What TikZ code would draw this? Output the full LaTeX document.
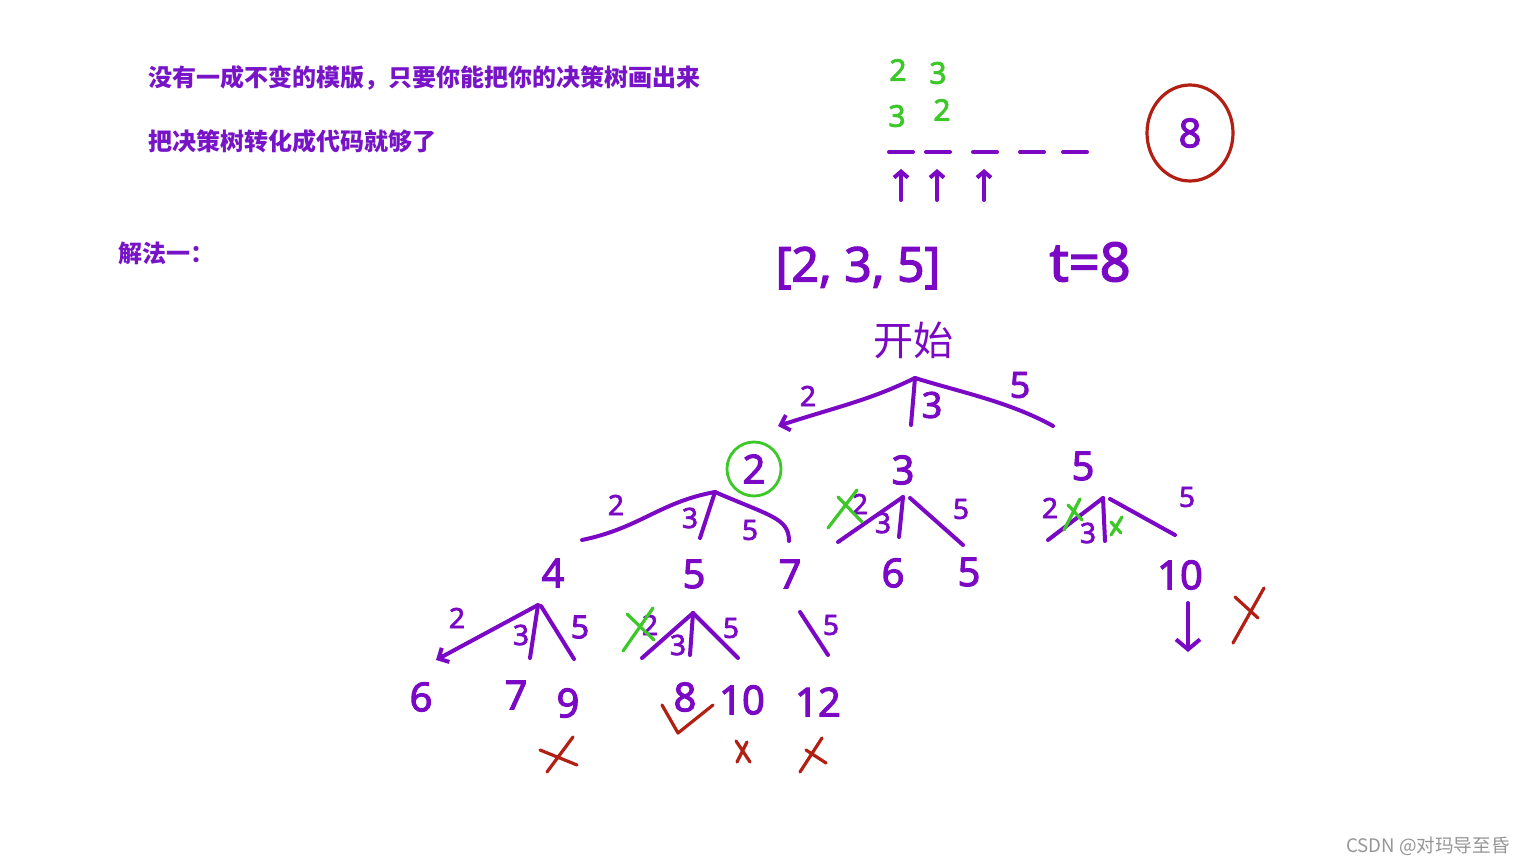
\documentclass[tikz,border=0pt]{standalone}
\usepackage{fontspec}
\newfontfamily\cjk{Noto Sans CJK SC}
\newfontfamily\hand{Noto Sans}[AutoFakeBold=2.5]
\usetikzlibrary{arrows.meta,shapes.geometric}

\definecolor{penpurple}{RGB}{122,8,196}
\definecolor{inkpurple}{RGB}{120,20,200}
\definecolor{pengreen}{RGB}{60,200,40}
\definecolor{penred}{RGB}{178,32,20}
\definecolor{markgray}{RGB}{150,150,150}

\tikzset{
    pen/.style={penpurple, line width=2pt, line cap=round, line join=round},
    tipped/.style={-{Straight Barb[length=4pt,width=8pt]}},
    num/.style={text=penpurple, inner sep=0pt, font=\hand\bfseries\fontsize{20}{20}\selectfont},
    lbl/.style={text=penpurple, inner sep=0pt, font=\hand\bfseries\fontsize{14}{14}\selectfont},
    gnum/.style={text=pengreen, inner sep=0pt, font=\hand\bfseries\fontsize{15}{15}\selectfont},
    title/.style={text=inkpurple, inner sep=0pt, anchor=west, font=\cjk\bfseries\fontsize{12}{12}\selectfont},
    cross/.style={penred, line width=1.6pt, line cap=round, line join=round},
    gcross/.style={pengreen, line width=1.6pt, line cap=round},
    goal/.style={ellipse, draw=penred, line width=1.6pt, minimum width=43pt, minimum height=48pt, inner sep=0pt},
    chosen/.style={circle, draw=pengreen, line width=1.4pt, minimum size=27pt, inner sep=0pt}
}

\begin{document}
\begin{tikzpicture}[x=0.5pt, y=-0.5pt]

    \useasboundingbox (0,0) rectangle (1525,865);
    \fill[white] (0,0) rectangle (1525,865);

    % Notes on the left
    \node[title] (note1) at (148,78) {没有一成不变的模版，只要你能把你的决策树画出来};
    \node[title] (note2) at (148,141) {把决策树转化成代码就够了};
    \node[title] (method) at (118,253) {解法一：};

    % Slots with the green choices
    \node[gnum] (pa1) at (898,70) {2};
    \node[gnum] (pa2) at (938,73) {3};
    \node[gnum] (pb1) at (897,116) {3};
    \node[gnum] (pb2) at (942,110) {2};
    \foreach \i/\x in {1/901, 2/938, 3/985, 4/1032, 5/1075} {
        \coordinate (sl\i) at (\x-12,152);
        \coordinate (sr\i) at (\x+12,152);
        \draw[pen] (sl\i) -- (sr\i);
    }
    \foreach \i/\x in {1/901, 2/937, 3/984} {
        \coordinate (ub\i) at (\x,200);
        \coordinate (ut\i) at (\x,169);
        \draw[pen, -{Straight Barb[length=3pt,width=7pt]}] (ub\i) -- (ut\i);
    }
    \node[goal, num] (target) at (1190,133) {8};

    % Candidates and target
    \node[num, font=\hand\bfseries\fontsize{24}{24}\selectfont] (cands) at (858,268) {[2, 3, 5]};
    \node[num, font=\hand\bfseries\fontsize{27}{27}\selectfont] (sum) at (1090,262) {t=8};

    % Root
    \node[text=penpurple, inner sep=0pt, font=\cjk\fontsize{20}{20}\selectfont] (start) at (913,340) {开始};
    \coordinate (r0) at (915,378);
    \coordinate (r1) at (778,426);
    \coordinate (r2) at (911,425);
    \coordinate (r3) at (1053,426);
    \draw[pen, tipped] (r0) .. controls (870,400) and (840,406) .. (r1);
    \draw[pen] (r0) -- (r2);
    \draw[pen] (r0) .. controls (960,392) and (1010,402) .. (r3);
    \node[lbl] (l0a) at (808,396) {2};
    \node[lbl, font=\hand\bfseries\fontsize{18}{18}\selectfont] (l0b) at (932,405) {3};
    \node[lbl, font=\hand\bfseries\fontsize{18}{18}\selectfont] (l0c) at (1020,385) {5};

    % First level
    \node[chosen, num] (n2) at (754,469) {2};
    \node[num] (n3) at (903,470) {3};
    \node[num] (n5) at (1083,466) {5};

    % Subtree under 2
    \coordinate (a2) at (715,492);
    \coordinate (a2l) at (582,540);
    \coordinate (a2m) at (700,538);
    \coordinate (a2r) at (789,541);
    \draw[pen] (a2) .. controls (660,502) and (640,528) .. (a2l);
    \draw[pen] (a2) -- (a2m);
    \draw[pen] (a2) .. controls (770,516) and (789,518) .. (a2r);
    \node[lbl] (l2a) at (616,505) {2};
    \node[lbl] (l2b) at (690,518) {3};
    \node[lbl] (l2c) at (750,530) {5};
    \node[num] (c4) at (553,573) {4};
    \node[num] (c5) at (694,574) {5};
    \node[num] (c7) at (790,574) {7};

    % Subtree under 3
    \coordinate (a3) at (903,497);
    \coordinate (a3l) at (838,542);
    \coordinate (a3m) at (899,537);
    \coordinate (a3s) at (910,498);
    \coordinate (a3r) at (963,545);
    \draw[pen] (a3) -- (a3l);
    \draw[pen] (a3) -- (a3m);
    \draw[pen] (a3s) -- (a3r);
    \node[lbl] (l3a) at (860,504) {2};
    \node[lbl] (l3b) at (883,523) {3};
    \node[lbl] (l3c) at (961,509) {5};
    \draw[gcross] (828,528) -- (857,490) (838,497) -- (862,522);
    \node[num] (c6) at (893,573) {6};
    \node[num] (c5b) at (969,572) {5};

    % Subtree under 5
    \coordinate (a5) at (1103,498);
    \coordinate (a5l) at (1048,540);
    \coordinate (a5m) at (1105,541);
    \coordinate (a5s) at (1110,499);
    \coordinate (a5r) at (1175,535);
    \draw[pen] (a5) -- (a5l);
    \draw[pen] (a5) -- (a5m);
    \draw[pen] (a5s) -- (a5r);
    \node[lbl] (l5a) at (1050,508) {2};
    \node[lbl] (l5b) at (1088,533) {3};
    \node[lbl] (l5c) at (1187,497) {5};
    \draw[gcross] (1064,530) -- (1080,499) (1068,505) -- (1082,520);
    \draw[gcross] (1111,535) -- (1122,517) (1111,522) -- (1121,533);
    \node[num] (c10) at (1180,575) {10};
    \coordinate (d10a) at (1188,603);
    \coordinate (d10b) at (1188,652);
    \draw[pen, -{Straight Barb[length=5pt,width=12pt]}] (d10a) -- (d10b);
    \draw[cross] (1233,643) -- (1264,588) (1235,597) -- (1258,618);

    % Subtree under 4
    \coordinate (b4) at (538,605);
    \coordinate (b4l) at (436,660);
    \coordinate (b4m) at (530,658);
    \coordinate (b4s) at (541,606);
    \coordinate (b4r) at (574,659);
    \draw[pen, tipped] (b4) -- (b4l);
    \draw[pen] (b4) -- (b4m);
    \draw[pen] (b4s) -- (b4r);
    \node[lbl] (l4a) at (457,618) {2};
    \node[lbl] (l4b) at (521,635) {3};
    \node[lbl, font=\hand\bfseries\fontsize{16}{16}\selectfont] (l4c) at (580,627) {5};
    \node[num] (g6) at (421,697) {6};
    \node[num] (g7) at (516,695) {7};
    \node[num] (g9) at (568,703) {9};
    \draw[cross] (547,772) -- (573,737) (540,750) -- (577,765);

    % Subtree under 5
    \coordinate (b5) at (693,613);
    \coordinate (b5l) at (642,658);
    \coordinate (b5m) at (690,655);
    \coordinate (b5r) at (738,658);
    \draw[pen] (b5) -- (b5l);
    \draw[pen] (b5) -- (b5m);
    \draw[pen] (b5) -- (b5r);
    \node[lbl] (l5d) at (650,625) {2};
    \node[lbl] (l5e) at (678,645) {3};
    \node[lbl] (l5f) at (731,628) {5};
    \draw[gcross] (623,651) -- (653,608) (627,614) -- (654,640);
    \node[num] (g8) at (685,697) {8};
    \node[num] (g10) at (742,700) {10};
    \draw[cross] (662,705) -- (678,733) -- (713,705);
    \draw[cross] (736,741) -- (750,762) (747,742) -- (737,762);

    % Subtree under 7
    \coordinate (b7) at (800,612);
    \coordinate (b7r) at (828,655);
    \draw[pen] (b7) -- (b7r);
    \node[lbl] (l7a) at (831,625) {5};
    \node[num] (g12) at (818,702) {12};
    \draw[cross] (800,772) -- (822,738) (806,750) -- (826,763);

    % Watermark
    \node[text=markgray, inner sep=0pt, anchor=east, font=\cjk\fontsize{9.3}{9.3}\selectfont] (mark) at (1510,846) {CSDN @对玛导至昏};

\end{tikzpicture}
\end{document}
